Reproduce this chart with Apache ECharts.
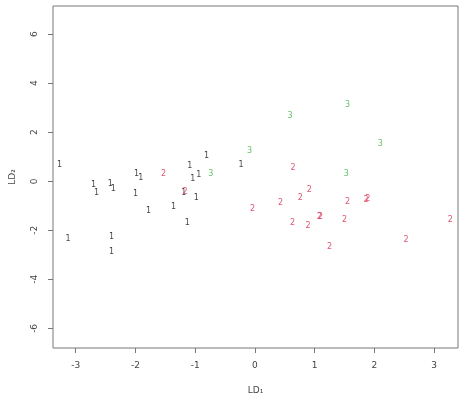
<!DOCTYPE html>
<html>
<head>
<meta charset="utf-8">
<script src="https://cdn.jsdelivr.net/npm/echarts@6/dist/echarts.min.js"></script>
<style>
  html, body { margin: 0; padding: 0; background: #fff; }
  #ld { width: 474px; height: 405px; }
</style>
</head>
<body>
<div id="ld"></div>
<script>
var ldChart = echarts.init(document.getElementById('ld'));

// LD1 / LD2 scores, one list per group
var group1 = [
    [-3.27, 0.67], [-2.70, -0.14], [-2.65, -0.47], [-2.42, -0.10], [-2.37, -0.31],
    [-1.98, 0.31], [-1.91, 0.14], [-2.00, -0.51], [-1.78, -1.20], [-1.36, -1.04],
    [-1.13, -1.69], [-3.13, -2.34], [-2.40, -2.26], [-2.40, -2.87], [-1.09, 0.63],
    [-0.81, 1.04], [-1.04, 0.10], [-0.94, 0.26], [-0.23, 0.67], [-1.19, -0.47],
    [-0.98, -0.67]
];
var group2 = [
    [-1.53, 0.31], [-1.17, -0.44], [-0.04, -1.12], [0.64, 0.55], [0.91, -0.35],
    [0.76, -0.67], [0.43, -0.87], [1.55, -0.83], [1.86, -0.75], [1.89, -0.72],
    [0.63, -1.69], [0.89, -1.81], [1.08, -1.44], [1.10, -1.47], [1.50, -1.57],
    [1.25, -2.67], [3.27, -1.57], [2.53, -2.38]
];
var group3 = [
    [1.55, 3.11], [0.59, 2.66], [-0.09, 1.24], [-0.74, 0.31], [1.53, 0.31],
    [2.10, 1.53]
];
var groupNames = ['1', '2', '3'];
var groupColors = ['#111111', '#d62a4c', '#3cb347'];
var xTicks = [-3, -2, -1, 0, 1, 2, 3];
var yTicks = [-6, -4, -2, 0, 2, 4, 6];

function groupSeries(name, data, color) {
    return {
        name: name,
        type: 'scatter',
        data: data,
        symbolSize: 1,
        itemStyle: { color: 'rgba(0,0,0,0)' },
        label: {
            show: true,
            position: 'inside',
            formatter: name,
            color: color,
            fontFamily: 'DejaVu Sans',
            fontSize: 8
        },
        emphasis: { disabled: true }
    };
}

var axisText = { color: '#444', fontFamily: 'DejaVu Sans', fontSize: 9 };

var ldOption = {
    animation: false,
    grid: {
        left: 51,
        right: 16,
        top: 6,
        bottom: 57,
        show: true,
        borderColor: '#777',
        borderWidth: 1
    },
    xAxis: {
        type: 'value',
        min: -3.38,
        max: 3.4,
        name: 'LD₁',
        nameLocation: 'middle',
        nameGap: 38,
        nameTextStyle: axisText,
        splitLine: { show: false },
        axisLine: { show: false, onZero: false },
        axisTick: { show: true, length: 5, customValues: xTicks, lineStyle: { color: '#777' } },
        axisLabel: Object.assign({ customValues: xTicks, margin: 13 }, axisText)
    },
    yAxis: {
        type: 'value',
        min: -6.8,
        max: 7.15,
        name: 'LD₂',
        nameLocation: 'middle',
        nameGap: 36,
        nameRotate: 90,
        nameTextStyle: axisText,
        splitLine: { show: false },
        axisLine: { show: false, onZero: false },
        axisTick: { show: true, length: 5, customValues: yTicks, lineStyle: { color: '#777' } },
        axisLabel: Object.assign({ customValues: yTicks, margin: 14, rotate: 90 }, axisText)
    },
    series: [
        groupSeries(groupNames[0], group1, groupColors[0]),
        groupSeries(groupNames[1], group2, groupColors[1]),
        groupSeries(groupNames[2], group3, groupColors[2])
    ]
};
ldChart.setOption(ldOption);
</script>
</body>
</html>
